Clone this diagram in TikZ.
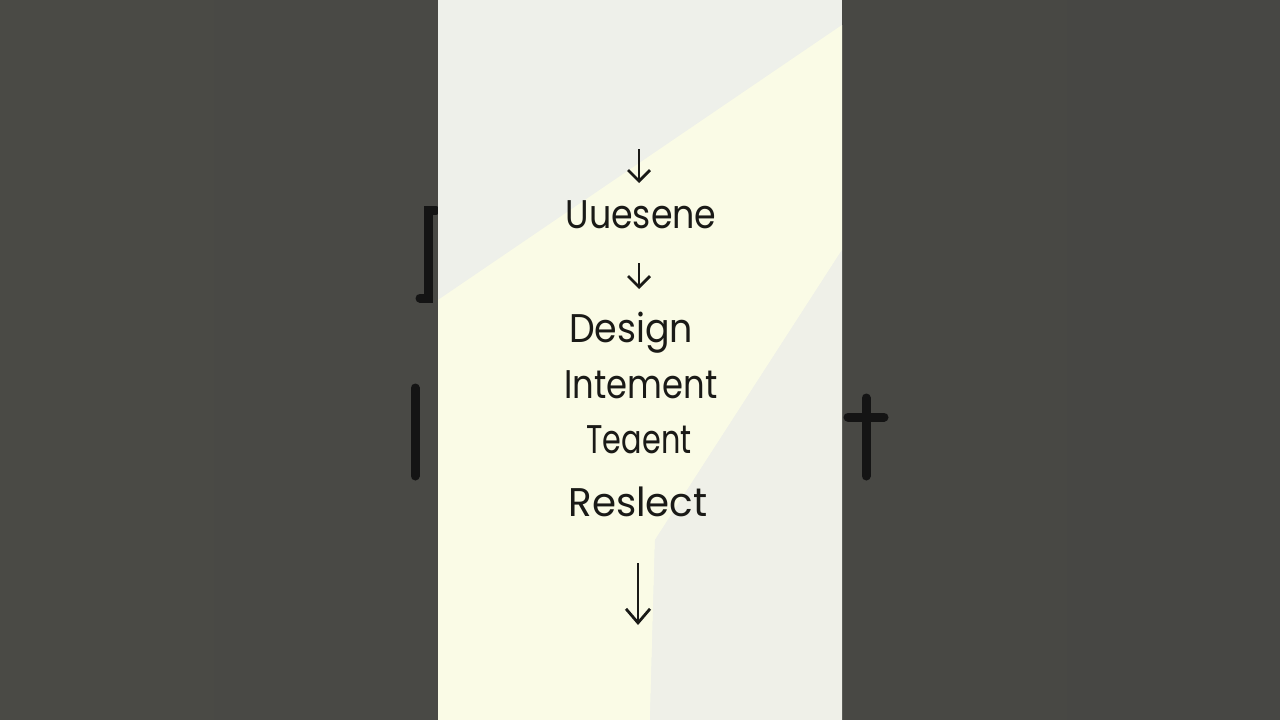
\documentclass[tikz,border=0pt]{standalone}
\usepackage{fontspec}
\usepackage{graphicx}
\setmainfont{Poppins}
\usetikzlibrary{arrows.meta}
\definecolor{sidegrey}{HTML}{4A4A45}
\definecolor{sidegreyr}{HTML}{474744}
\definecolor{paneltop}{HTML}{EEF0EA}
\definecolor{panelcream}{HTML}{FAFBE6}
\definecolor{panellow}{HTML}{EFF0E8}
\definecolor{ink}{HTML}{1A1A17}
\newcommand{\fitto}[2]{\resizebox{#1}{\height}{#2}}

\begin{document}
\begin{tikzpicture}[x=1pt, y=-1pt,
        flow/.style={ink, line width=2.8pt, -{Straight Barb[length=11pt, width=22pt, line width=2.8pt]}},
        bigflow/.style={flow, -{Straight Barb[length=14pt, width=24pt, line width=2.8pt]}}]
      \tikzstyle{word} = [font=\fontsize{40}{40}\selectfont, color=ink, inner sep=0pt, anchor=base]
      \tikzstyle{ghost} = [black!92, line width=9pt, line cap=round]
      \useasboundingbox (0,0) rectangle (1280,720);
      % backdrop and panel
      \shade[left color=sidegrey, right color=sidegreyr] (0,0) rectangle (1280,720);
      \draw[ghost] (436,210) -- (428,210) -- (428,298) -- (420,298);
      \draw[ghost] (415,388) -- (415,476);
      \draw[ghost] (866,398) -- (866,476);
      \draw[ghost] (848,417) -- (884,417);
      \fill[paneltop] (438,0) rectangle (842,720);
      \fill[panelcream] (438,300) -- (842,25) -- (842,250) -- (700,470) -- (655,540) -- (650,720) -- (438,720) -- cycle;
      \fill[panellow] (842,250) -- (700,470) -- (655,540) -- (650,720) -- (842,720) -- cycle;
      % words
      \node (Uuesene) [word] at (641,228) {\fitto{151pt}{Uuesene}};
      \node (Design) [word] at (631,342) {\fitto{124pt}{Design}};
      \node (Intement) [word] at (641,398) {\fitto{153pt}{Intement}};
      \node (Teaent) [word] at (639,453) {\fitto{105pt}{Teaent}};
      \node (Reslect) [word] at (638,516) {\fitto{139pt}{Reslect}};
      % arrows
      \coordinate (inTop) at (639,149);
      \coordinate (inEnd) at (639,183);
      \coordinate (midTop) at (639,263);
      \coordinate (midEnd) at (639,289);
      \coordinate (outTop) at (638,563);
      \coordinate (outEnd) at (638,625);
      \draw[flow] (inTop) -- (inEnd);
      \draw[flow] (midTop) -- (midEnd);
      \draw[bigflow] (outTop) -- (outEnd);
\end{tikzpicture}
\end{document}
